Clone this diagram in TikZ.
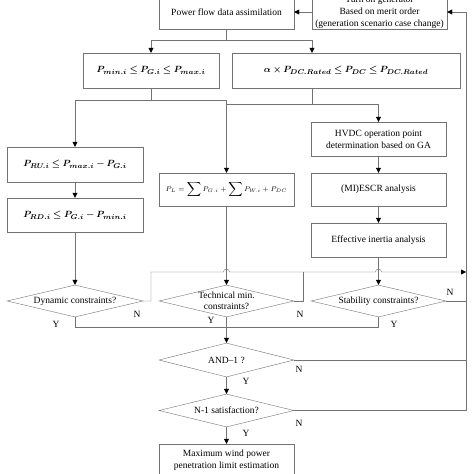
\documentclass[tikz,border=0pt]{standalone}
\usepackage{bm}
\usepackage{fontspec}
\setmainfont{Liberation Serif}
\usetikzlibrary{shapes.geometric,arrows.meta}

\begin{document}
\begin{tikzpicture}[x=1pt,y=-1pt,
  box/.style={draw=black!55,rectangle,minimum width=135pt,minimum height=34pt,inner sep=1pt,align=center,font=\fontsize{9.5}{12}\selectfont},
  dec/.style={draw=black!55,diamond,minimum width=136pt,minimum height=32pt,inner sep=0pt},
  lab/.style={align=center,inner sep=0pt,font=\fontsize{9.5}{10.5}\selectfont},
  yn/.style={inner sep=0pt,font=\fontsize{9.5}{12}\selectfont},
  >={Triangle[length=5pt,width=5pt,color=black]}]

       \useasboundingbox (0,0) rectangle (474,474);

       \node[box] (pf) at (226.5,12) {Power flow data assimilation};
       \node[box] (gen) at (379.5,12) {Turn on generator\\Based on merit order\\(generation scenario case change)};
       \node[box,minimum width=136pt,minimum height=35pt] (pmin) at (151,70.5) {$\bm{P_{min.i} \le P_{G.i} \le P_{max.i}}$};
       \node[box,minimum width=228pt,minimum height=35pt] (alpha) at (346,70.5) {$\bm{\alpha \times P_{DC.Rated} \le P_{DC} \le P_{DC.Rated}}$};
       \node[box,minimum width=136pt,minimum height=35pt] (pru) at (75,164.5) {$\bm{P_{RU.i} \le P_{max.i} - P_{G.i}}$};
       \node[box,minimum width=136pt] (prd) at (75,215) {$\bm{P_{RD.i} \le P_{G.i} - P_{min.i}}$};
       \node[box,minimum height=33pt] (pl) at (226.5,189.5) {\fontsize{7.5}{9}\selectfont$P_L = \displaystyle\sum P_{G.i} + \sum P_{W.i} + P_{DC}$};
       \node[box] (hvdc) at (378.5,139) {HVDC operation point\\determination based on GA};
       \node[box,minimum height=33pt] (mi) at (378.5,189.5) {(MI)ESCR analysis};
       \node[box] (eff) at (378.5,240) {Effective inertia analysis};
       \node[dec,label={[lab]center:Dynamic constraints?}] (dyn) at (75,301) {};
       \node[dec,minimum width=135pt,label={[lab]center:Technical min.\\constraints?}] (tech) at (226.5,301) {};
       \node[dec,minimum width=135pt,label={[lab]center:Stability constraints?}] (stab) at (378.5,301) {};
       \node[dec,minimum width=135pt,minimum height=34pt,label={[lab]center:AND--1 ?}] (and) at (226.5,360) {};
       \node[dec,minimum width=135pt,minimum height=33pt,label={[lab]center:N-1 satisfaction?}] (n1) at (226.5,410.5) {};
       \node[box,minimum height=33pt] (fin) at (226.5,460.5) {Maximum wind power\\penetration limit estimation};

       \coordinate (j1) at (226.5,40);
       \coordinate (j2) at (151,100);
       \coordinate (j3) at (312,104);
       \coordinate (fb) at (466,272);

       \begin{scope}[draw=black!55]
       \draw[->] (gen) -- (pf);
       \draw (pf) -- (j1);
       \draw[->] (j1) -| (pmin);
       \draw[->] (j1) -| (j3 |- alpha.north);
       \draw (pmin) -- (j2);
       \draw[->] (j2) -| (pru);
       \draw[->] (j2) -| (pl);
       \draw (j3 |- alpha.south) -- (j3) -- (j1 |- j3);
       \draw[->] (j3) -| (hvdc);
       \draw[->] (pru) -- (prd);
       \draw[->] (hvdc) -- (mi);
       \draw[->] (mi) -- (eff);
       \draw[->] (prd) -- (dyn);
       \draw[->] (pl) -- (tech);
       \draw[->] (eff) -- (stab);

       % feedback N branches
       \draw[->] (dyn.east) -- (151,301) -- (151,272) -- (223.5,272) arc[start angle=180,end angle=0,radius=3pt]
             -- (375.5,272) arc[start angle=180,end angle=0,radius=3pt] -- (fb);
       \draw (tech.east) -- (303,301) -- (303,272);
       \draw (stab.east) -- (466,301);
       \draw (and.east) -- (466,360);
       \draw[->] (n1.east) -- (466,410.5) -- (466,12) -- (gen.east);

       % Y branches
       \draw (dyn.south) -- (75,327) -- (378.5,327) -- (stab.south);
       \draw[->] (tech) -- (and);
       \draw[->] (and) -- (n1);
       \draw[->] (n1) -- (fin);
       \end{scope}

       \node[yn] (dynn) at (137,314) {N};
       \node[yn] (dyny) at (56,324) {Y};
       \node[yn] (techy) at (211,320) {Y};
       \node[yn] (techn) at (300,314) {N};
       \node[yn] (stabn) at (450,292) {N};
       \node[yn] (staby) at (394,324) {Y};
       \node[yn] (andn) at (299,369) {N};
       \node[yn] (andy) at (246,381) {Y};
       \node[yn] (n1n) at (299,423) {N};
       \node[yn] (n1y) at (246,433) {Y};
     \end{tikzpicture}
\end{document}
